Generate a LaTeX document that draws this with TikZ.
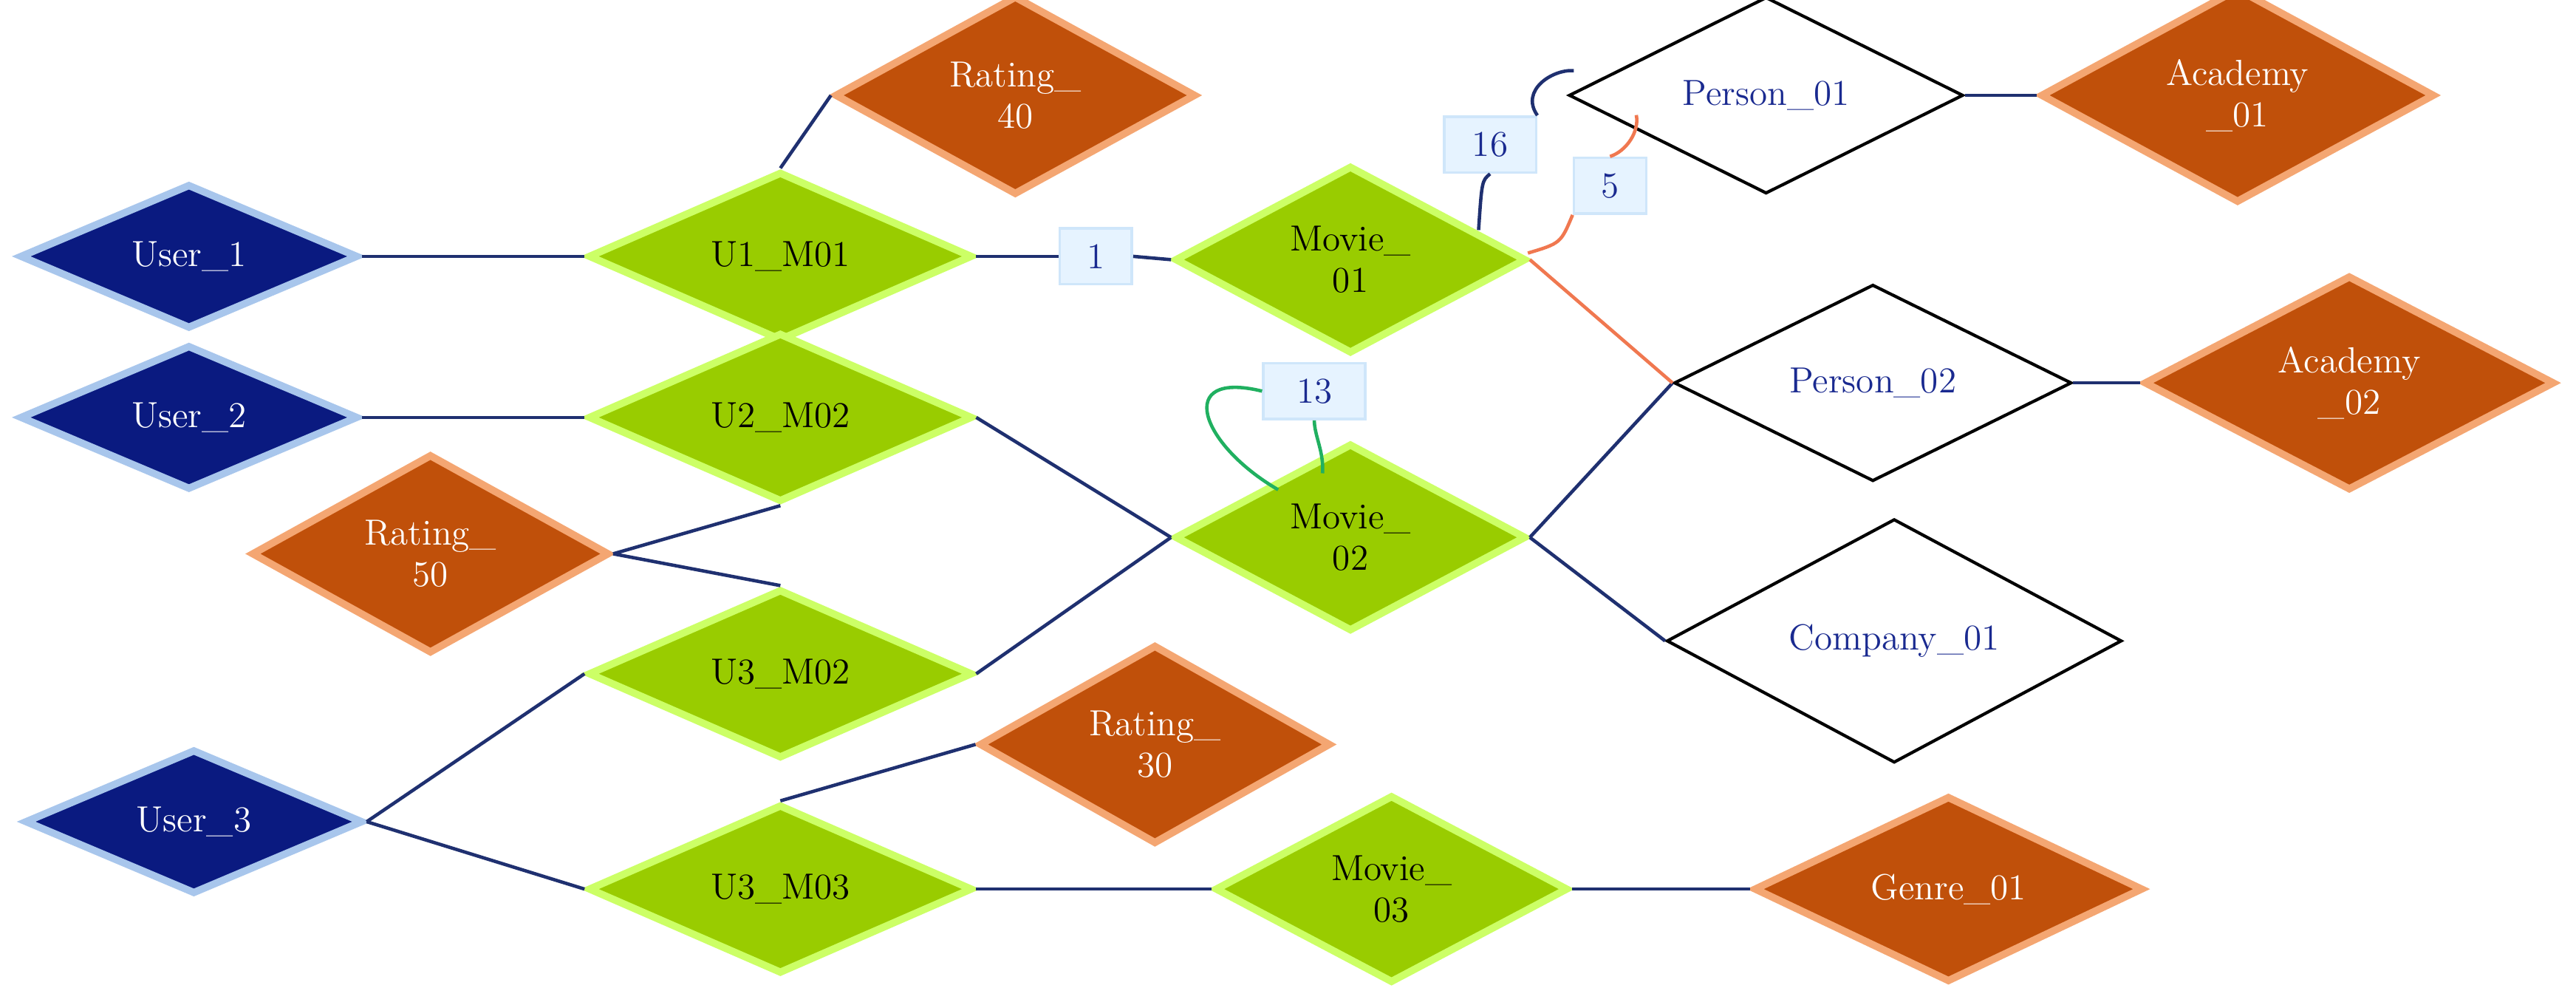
\documentclass[tikz,border=0pt]{standalone}
\usetikzlibrary{shapes.geometric}
\definecolor{navy}{HTML}{0A1A80}
\definecolor{navyb}{HTML}{A8C6EC}
\definecolor{grn}{HTML}{99CC00}
\definecolor{grnb}{HTML}{CCFF66}
\definecolor{org}{HTML}{C0500A}
\definecolor{orgb}{HTML}{F4A672}
\definecolor{edge}{HTML}{1F3070}
\definecolor{lbl}{HTML}{E6F3FF}
\definecolor{lblb}{HTML}{CFE6FA}
\definecolor{txt}{HTML}{1A2A90}
\definecolor{coral}{HTML}{F07850}
\definecolor{lgrn}{HTML}{20B060}
\begin{document}
\begin{tikzpicture}[x=0.02224cm,y=-0.02224cm,
  every node/.style={font=\fontsize{14}{16}\selectfont},
  dia/.style 2 args={diamond,inner sep=0pt,align=center,line width=2.8pt,minimum width=#1*0.02224cm,minimum height=#2*0.02224cm},
  usr/.style={fill=navy,draw=navyb,text=white},
  gr/.style={fill=grn,draw=grnb,text=black},
  og/.style={fill=org,draw=orgb,text=white},
  wh/.style={fill=white,draw=black,line width=1.2pt,text=txt},
  e/.style={draw=edge,line width=1.3pt},
  lb/.style={fill=lbl,draw=lblb,line width=1pt,text=txt,minimum height=34*0.02224cm,minimum width=#1*0.02224cm,inner sep=0pt}]
\useasboundingbox (0,0) rectangle (1568,601);
\node[dia={206}{76},usr] (u1) at (115,156) {User\_1};
\node[dia={206}{76},usr] (u2) at (115,254) {User\_2};
\node[dia={206}{76},usr] (u3) at (118,500) {User\_3};
\node[dia={234}{76},gr] (um1) at (475,156) {U1\_M01};
\node[dia={234}{76},gr] (um2) at (475,254) {U2\_M02};
\node[dia={234}{76},gr] (um32) at (475,410) {U3\_M02};
\node[dia={234}{80},gr] (um33) at (475,541) {U3\_M03};
\node[dia={220}{87},og] (r40) at (618,58) {Rating\_\\40};
\node[dia={218}{85},og] (r50) at (262,337) {Rating\_\\50};
\node[dia={214}{87},og] (r30) at (703,453) {Rating\_\\30};
\node[dia={214}{82},gr] (m1) at (822,158) {Movie\_\\01};
\node[dia={214}{89},gr] (m2) at (822,327) {Movie\_\\02};
\node[dia={215}{88},gr] (m3) at (847,541) {Movie\_\\03};
\node[dia={237}{88},og] (g1) at (1186,541) {Genre\_01};
\node[dia={240}{90},wh] (p1) at (1075,58) {Person\_01};
\node[dia={242}{89},wh] (p2) at (1140,233) {Person\_02};
\node[dia={277}{88},wh] (c1) at (1153,390) {Company\_01};
\node[dia={240}{85},og] (a1) at (1362,58) {Academy\\\_01};
\node[dia={250}{89},og] (a2) at (1430,233) {Academy\\\_02};
\node[lb=44] (l1) at (667,156) {1};
\node[lb=56] (l16) at (907,88) {16};
\node[lb=44] (l5) at (980,113) {5};
\node[lb=62] (l13) at (800,238) {13};
\begin{scope}[on background layer/.try]
\end{scope}
\draw[e] (u1.east) -- (um1.west);
\draw[e] (u2.east) -- (um2.west);
\draw[e] (um1.east) -- (l1.west);
\draw[e] (l1.east) -- (m1.west);
\draw[e] (um1.north) -- (r40.west);
\draw[e] (um2.south) -- (r50.east);
\draw[e] (r50.east) -- (um32.north);
\draw[e] (um2.east) -- (m2.west);
\draw[e] (um32.east) -- (m2.west);
\draw[e] (u3.east) -- (um32.west);
\draw[e] (u3.east) -- (um33.west);
\draw[e] (um33.north) -- (r30.west);
\draw[e] (um33.east) -- (m3.west);
\draw[e] (m3.east) -- (g1.west);
\draw[e] (m2.east) -- (p2.west);
\draw[e] (m2.east) -- (c1.west);
\draw[e] (p1.east) -- (a1.west);
\draw[e] (p2.east) -- (a2.west);
\draw[draw=coral,line width=1.3pt] (m1.east) -- (p2.west);
\coordinate (b1) at (900,140);
\coordinate (b2) at (958,43);
\draw[e] (b1) .. controls (902,110) .. (l16.south);
\draw[e] (l16.north east) .. controls (925,55) and (945,42) .. (b2);
\coordinate (o1) at (930,154);
\coordinate (o2) at (996,70);
\draw[draw=coral,line width=1.3pt] (o1) .. controls (950,148) .. (l5.south west);
\draw[draw=coral,line width=1.3pt] (l5.north) .. controls (990,92) and (998,80) .. (o2);
\coordinate (g0) at (778,298);
\coordinate (gz) at (805,288);
\draw[draw=lgrn,line width=1.3pt] (g0) .. controls (730,270) and (715,225) .. (l13.west);
\draw[draw=lgrn,line width=1.3pt] (l13.south) .. controls (800,265) and (806,275) .. (gz);
\end{tikzpicture}
\end{document}
